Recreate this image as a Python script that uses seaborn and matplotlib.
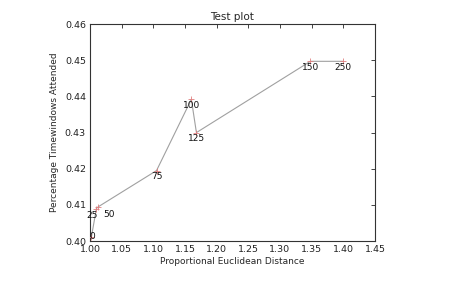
import matplotlib
matplotlib.use("Agg")
import matplotlib.pyplot as plt
import seaborn as sns
import pandas as pd

labels = ["0", "25", "50", "75", "100", "125", "150", "250"]
distance = [1.002, 1.010, 1.013, 1.105, 1.160, 1.168, 1.348, 1.400]
attended = [0.4010, 0.4090, 0.4095, 0.4195, 0.4392, 0.4300, 0.4497, 0.4497]

df = pd.DataFrame({"x": distance, "y": attended, "label": labels})

sns.set_style("white")
plt.rcParams["font.family"] = ["DejaVu Sans"]
plt.rcParams["font.size"] = 7

fig = plt.figure(figsize=(4.74, 2.83), dpi=100)
ax = fig.add_axes([0.19, 0.148, 0.601, 0.767])

sns.lineplot(data=df, x="x", y="y", sort=False, ax=ax, color="#a0a0a0",
             linewidth=0.8, estimator=None)
sns.scatterplot(data=df, x="x", y="y", ax=ax, marker="+", color="#e08080",
                s=18, linewidth=0.6, zorder=3)

label_offsets = {"0": (1, 4), "25": (-3, -2), "50": (8, -2)}
for _, r in df.iterrows():
    dx, dy = label_offsets.get(r["label"], (0, -1))
    ax.annotate(r["label"], (r["x"], r["y"]), xytext=(dx, dy),
                textcoords="offset points", ha="center", va="top",
                fontsize=6.5, color="#111111", annotation_clip=False)

ax.set_xlim(1.00, 1.45)
ax.set_ylim(0.40, 0.46)
ax.set_xticks([1.00, 1.05, 1.10, 1.15, 1.20, 1.25, 1.30, 1.35, 1.40, 1.45])
ax.set_xticklabels(["1.00", "1.05", "1.10", "1.15", "1.20", "1.25", "1.30", "1.35", "1.40", "1.45"])
ax.set_yticks([0.40, 0.41, 0.42, 0.43, 0.44, 0.45, 0.46])
ax.set_yticklabels(["0.40", "0.41", "0.42", "0.43", "0.44", "0.45", "0.46"])
ax.tick_params(direction="in", top=True, right=True, length=3, width=0.6,
               labelsize=6.8, pad=3, colors="#222222")
for s in ax.spines.values():
    s.set_visible(True)
    s.set_color("#333333")
    s.set_linewidth(0.8)

ax.set_xlabel("Proportional Euclidean Distance", fontsize=6.5, labelpad=2)
ax.set_ylabel("Percentage Timewindows Attended", fontsize=6.5, labelpad=4)
ax.set_title("Test plot", fontsize=7.5, pad=3)

fig.savefig("out.png", dpi=100, facecolor="white")
